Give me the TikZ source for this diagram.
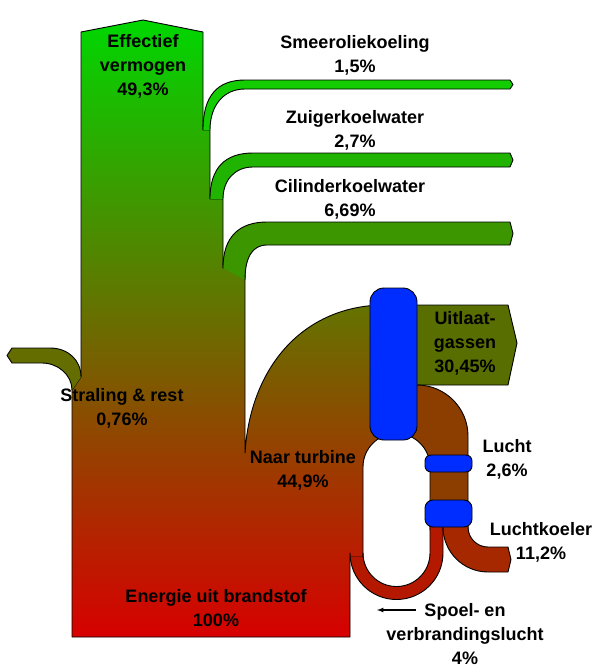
\documentclass[tikz,border=0pt]{standalone}
\usepackage{fontspec}
\setmainfont{Liberation Sans}
\begin{document}
\begin{tikzpicture}[x=1pt,y=-1pt,line width=0.9pt,line join=round,
  lbl/.style={font=\bfseries\fontsize{18}{24}\selectfont,align=center,inner sep=0},
  box/.style={draw=black,fill=bluebox}]
\definecolor{gtop}{RGB}{0,215,0}
\definecolor{gmid}{RGB}{90,112,0}
\definecolor{gbot}{RGB}{215,0,0}
\definecolor{bluebox}{RGB}{0,45,255}
\useasboundingbox (0,0) rectangle (600,672);
% main column
\shadedraw[top color=gtop,middle color=gmid,bottom color=gbot]
 (81,32) -- (143,20) -- (203,32) -- (203,130) -- (210,130) -- (210,199) -- (223,199)
 -- (223,268) -- (245,268) -- (245,453) .. controls (250,370) and (300,308) .. (380,305)
 -- (396.5,305) -- (396.5,433.5) arc[start angle=-90,end angle=-180,radius=33.5]
 -- (363,557) -- (350,557) -- (350,637) -- (72,637) -- (72,390) -- (81,377) -- cycle;
% branches
\filldraw[fill={rgb,255:red,20;green,205;blue,0}] (203,130) .. controls (203,95) and (218,80) .. (245,80) -- (510,80) -- (513,84.5) -- (510,89) -- (245,89) .. controls (224,89) and (210,105) .. (210,130);
\filldraw[fill={rgb,255:red,32;green,180;blue,0}] (210,199) .. controls (210,168) and (225,153) .. (253,153) -- (510,153) -- (513,160) -- (510,167) -- (253,167) .. controls (235,167) and (223,180) .. (223,199);
\filldraw[fill={rgb,255:red,60;green,150;blue,0}] (223,268) .. controls (223,236) and (240,222) .. (267,222) -- (510,222) -- (513,233.5) -- (510,245) -- (267,245) .. controls (252,245) and (245,258) .. (245,280);
\filldraw[fill={rgb,255:red,100;green,110;blue,0}] (81,377) .. controls (81,360) and (68,348) .. (50,348) -- (12,348) -- (7,355.5) -- (12,363) -- (42,363) .. controls (58,363) and (72,375) .. (72,390);
% exhaust
\filldraw[fill={rgb,255:red,88;green,110;blue,0}] (405,305) -- (508,305) -- (517,343) -- (508,385) -- (405,385);
% brown loop
\filldraw[fill={rgb,255:red,140;green,62;blue,0}] (405,385) -- (417,385) arc[start angle=-90,end angle=0,radius=51] -- (468,530) -- (430,530) -- (430,467) arc[start angle=0,end angle=-90,radius=33.5] -- (405,433.5);
% red U
\filldraw[fill={rgb,255:red,180;green,25;blue,0}] (350,557) -- (350,553) arc[start angle=180,end angle=0,radius=46.5] -- (443,520) -- (430,520) -- (430,553) arc[start angle=0,end angle=180,radius=33.5] -- (363,557);
% luchtkoeler
\filldraw[fill={rgb,255:red,165;green,40;blue,0}] (443,520) -- (443,527) arc[start angle=180,end angle=90,radius=45] -- (508,572) -- (511,559.5) -- (508,547) -- (488,547) arc[start angle=90,end angle=180,radius=20] -- (468,520);
% boxes
\draw[box,rounded corners=14] (370,288) rectangle (417,440);
\draw[box,rounded corners=6] (425,455) rectangle (472,472);
\draw[box,rounded corners=8] (425,500) rectangle (472,527);
% labels
\node[lbl] (t1) at (143,66) {Effectief\\vermogen\\49,3\%};
\node[lbl] (t2) at (355,55) {Smeeroliekoeling\\1,5\%};
\node[lbl] (t3) at (355,130) {Zuigerkoelwater\\2,7\%};
\node[lbl] (t4) at (350,199.5) {Cilinderkoelwater\\6,69\%};
\node[lbl] (t5) at (465,343) {Uitlaat-\\gassen\\30,45\%};
\node[lbl] (t6) at (122,408) {Straling \& rest\\0,76\%};
\node[lbl] (t7) at (303,470.5) {Naar turbine\\44,9\%};
\node[lbl] (t8) at (507,459) {Lucht\\2,6\%};
\node[lbl] (t9) at (541,542) {Luchtkoeler\\11,2\%};
\node[lbl] (t10) at (216,608) {Energie uit brandstof\\100\%};
\node[lbl] (t11) at (465,634) {Spoel- en\\verbrandingslucht\\4\%};
\coordinate (a1) at (416,610);
\coordinate (a2) at (377,610);
\draw[-latex,line width=1.2pt] (a1) -- (a2);
\end{tikzpicture}
\end{document}
